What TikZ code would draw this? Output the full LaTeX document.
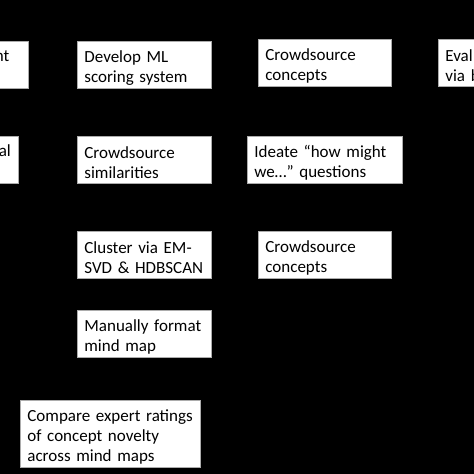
\documentclass[tikz,border=0pt]{standalone}
\usepackage{fontspec}
\setmainfont{Carlito}
\usepackage{tikz}
\usetikzlibrary{positioning}
\tikzset{
  stage/.style={draw=gray!65,line width=0.8pt,fill=white,text=black,align=left,
                text width=#1,inner xsep=7pt,inner ysep=3pt,minimum height=47pt,
                text height=18pt,anchor=north west,font=\fontsize{17}{20}\selectfont},
  cut/.style={text=black,font=\fontsize{17}{20}\selectfont,inner sep=0pt},
}

\begin{document}
\begin{tikzpicture}[x=1pt,y=-1pt]

\fill[black] (0,0) rectangle (474,474);
\useasboundingbox (0,0) rectangle (474,474);
\clip (0,0) rectangle (474,474);

% first column (cut at the left edge)
\node[stage=100pt,anchor=north east] (lefttop) at (29,41) {};
\node[cut,anchor=base east] (lefttoptxt) at (9.5,61) {nt};
\node[stage=100pt,anchor=north east] (leftmid) at (19,136) {};
\node[cut,anchor=base east] (leftmidtxt) at (11,156) {al};

% second column
\node[stage=120pt] (develop) at (77,41) {Develop ML\\scoring system};
\node[stage=120pt] (similar) at (77,136) {Crowdsource\\similarities};
\node[stage=120pt] (cluster) at (77,231) {Cluster via EM-\\SVD \& HDBSCAN};
\node[stage=120pt] (format) at (77,310) {Manually format\\mind map};
\node[stage=166pt,minimum height=67pt] (compare) at (20,400)
  {Compare expert ratings\\of concept novelty\\across mind maps};

% third column
\node[stage=119pt] (concepts) at (258,39) {Crowdsource\\concepts};
\node[stage=141pt] (ideate) at (247,136) {Ideate “how might\\we…” questions};
\node[stage=119pt] (conceptsb) at (258,231) {Crowdsource\\concepts};

% fourth column (cut at the right edge)
\node[stage=100pt] (eval) at (438,39) {Eval\\via b};

\end{tikzpicture}
\end{document}
